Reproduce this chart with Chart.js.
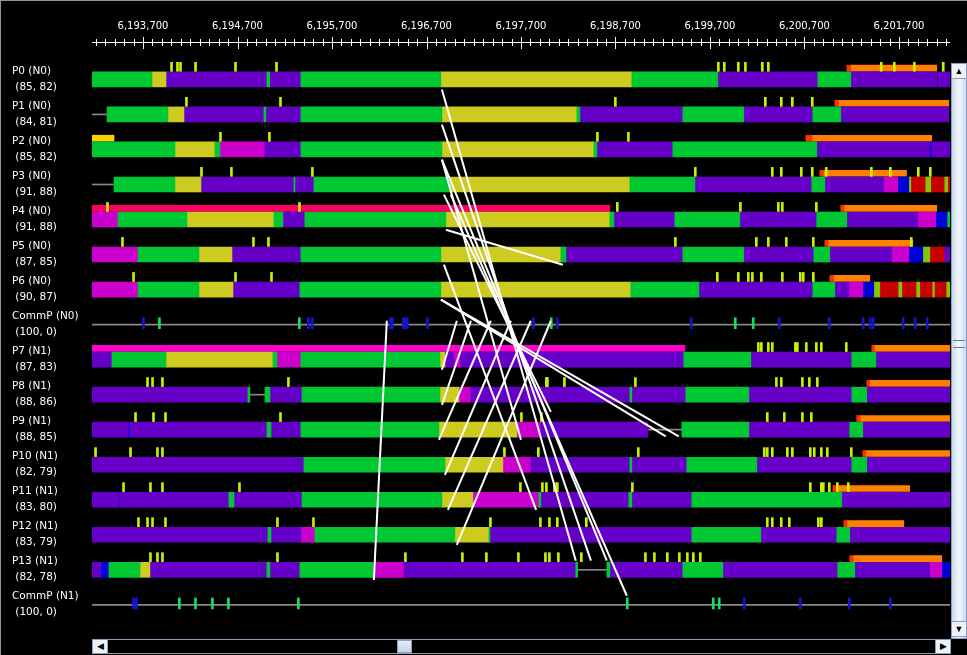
<!DOCTYPE html>
<html><head><meta charset="utf-8">
<script src="https://cdn.jsdelivr.net/npm/chart.js@4"></script>
<style>
html,body{margin:0;padding:0;background:#000;overflow:hidden}
#wrap{position:relative;width:967px;height:655px;box-sizing:border-box;border-left:1px solid #8a96a8;border-top:1px solid #8a96a8}
canvas{position:absolute;left:0;top:0}
.sb{position:absolute;box-sizing:border-box}
</style></head><body>
<div id="wrap">
<canvas id="c" width="967" height="655"></canvas>
<div class="sb" style="left:950px;top:62px;width:16px;height:576px;background:linear-gradient(90deg,#c9d9ee,#f4f8fd,#c9d9ee);border:1px solid #8aa0bc"></div>
<div class="sb" style="left:950px;top:62px;width:16px;height:16px;background:#eef2f7;border:1px solid #8aa0bc;font:9px sans-serif;text-align:center;line-height:14px">&#9650;</div>
<div class="sb" style="left:950px;top:620px;width:16px;height:16px;background:#eef2f7;border:1px solid #8aa0bc;font:9px sans-serif;text-align:center;line-height:14px">&#9660;</div>
<div class="sb" style="left:952px;top:339px;width:12px;height:8px;border-top:1px solid #6a7d9a;border-bottom:1px solid #6a7d9a"></div>
<div class="sb" style="left:91px;top:638px;width:858px;height:15px;background:#000;border:1px solid #8aa0bc"></div>
<div class="sb" style="left:91px;top:638px;width:16px;height:15px;background:#eef2f7;border:1px solid #8aa0bc;font:9px sans-serif;text-align:center;line-height:13px">&#9664;</div>
<div class="sb" style="left:934px;top:638px;width:16px;height:15px;background:#eef2f7;border:1px solid #8aa0bc;font:9px sans-serif;text-align:center;line-height:13px">&#9654;</div>
<div class="sb" style="left:396px;top:639px;width:15px;height:13px;background:linear-gradient(#e8eef7,#c5d3e6);border:1px solid #8aa0bc"></div>
</div>
<script>
const rowLabels=['P0 (N0)','P1 (N0)','P2 (N0)','P3 (N0)','P4 (N0)','P5 (N0)','P6 (N0)','CommP (N0)','P7 (N1)','P8 (N1)','P9 (N1)','P10 (N1)','P11 (N1)','P12 (N1)','P13 (N1)','CommP (N1)'];
const rowCounts=['(85, 82)','(84, 81)','(85, 82)','(91, 88)','(91, 88)','(87, 85)','(90, 87)','(100, 0)','(87, 83)','(88, 86)','(88, 85)','(82, 79)','(83, 80)','(83, 79)','(82, 78)','(100, 0)'];
const timeMin=6193160, timeMax=6202240, tickStart=6193700, majorStep=1000, minorStep=100;
const stateColors={G:'#00c832',Y:'#cdca20',P:'#6600c8',M:'#cc00cc',B:'#0000d8',R:'#c80000',O:'#ff8000',X:'#ff3000',K:'#ff0060',H:'#ff00cc',D:'#ffd000',L:'#888888',V:'#80c800'};

const p0=[[6193160,6193795,'G'],[6193795,6193943,'Y'],[6193943,6195011,'P'],[6195011,6195040,'G'],[6195040,6195371,'P'],[6195371,6196852,'G'],[6196852,6198873,'Y'],[6198873,6199783,'G'],[6199783,6200841,'P'],[6200841,6201190,'G'],[6201190,6202100,'P'],[6202110,6202237,'P']];
const p1=[[6193160,6193319,'L'],[6193319,6193964,'G'],[6193964,6194133,'Y'],[6194133,6194980,'P'],[6194980,6195000,'G'],[6195000,6195371,'P'],[6195371,6196863,'G'],[6196863,6198291,'Y'],[6198291,6198323,'G'],[6198323,6199413,'P'],[6199413,6200058,'G'],[6200058,6200788,'P'],[6200788,6201084,'G'],[6201084,6202227,'P']];
const p2=[[6193160,6194038,'G'],[6194038,6194461,'Y'],[6194461,6194514,'G'],[6194514,6194990,'M'],[6194990,6195371,'P'],[6195371,6196863,'G'],[6196863,6198471,'Y'],[6198471,6198503,'G'],[6198503,6199307,'P'],[6199307,6200830,'G'],[6200830,6202026,'P'],[6202026,6202047,'B'],[6202047,6202237,'P']];
const p3=[[6193160,6193393,'L'],[6193393,6194038,'G'],[6194038,6194313,'Y'],[6194313,6195297,'P'],[6195297,6195308,'G'],[6195308,6195509,'P'],[6195509,6196947,'G'],[6196947,6198852,'Y'],[6198852,6199540,'G'],[6199540,6200777,'P'],[6200777,6200915,'G'],[6200915,6201539,'P'],[6201539,6201687,'M'],[6201687,6201804,'B'],[6201804,6201825,'V'],[6201825,6201984,'R'],[6201984,6202036,'V'],[6202036,6202185,'R'],[6202185,6202216,'V'],[6202216,6202237,'R']];
const p4=[[6193160,6193435,'M'],[6193435,6194165,'G'],[6194165,6195085,'Y'],[6195085,6195181,'G'],[6195181,6195413,'P'],[6195413,6196905,'G'],[6196905,6198640,'Y'],[6198640,6198683,'G'],[6198683,6199328,'P'],[6199328,6200016,'G'],[6200016,6200830,'P'],[6200830,6201148,'G'],[6201148,6201899,'P'],[6201899,6202089,'M'],[6202089,6202216,'B'],[6202216,6202237,'G']];
const p5=[[6193160,6193647,'M'],[6193647,6194292,'G'],[6194292,6194641,'Y'],[6194641,6195371,'P'],[6195371,6196852,'G'],[6196852,6198122,'Y'],[6198122,6198175,'G'],[6198175,6199413,'P'],[6199413,6200058,'G'],[6200058,6200799,'P'],[6200799,6200968,'G'],[6200968,6201624,'P'],[6201624,6201804,'M'],[6201804,6201952,'B'],[6201952,6202026,'V'],[6202026,6202185,'R'],[6202185,6202237,'P']];
const p6=[[6193160,6193647,'M'],[6193647,6194292,'G'],[6194292,6194652,'Y'],[6194652,6195360,'P'],[6195360,6196852,'G'],[6196852,6198862,'Y'],[6198862,6199582,'G'],[6199582,6200788,'P'],[6200788,6201021,'G'],[6201021,6201169,'P'],[6201169,6201317,'M'],[6201317,6201433,'B'],[6201433,6201497,'V'],[6201497,6201698,'R'],[6201698,6201730,'V'],[6201730,6201888,'R'],[6201888,6201920,'V'],[6201920,6202058,'R'],[6202058,6202075,'V'],[6202075,6202206,'R'],[6202206,6202237,'V']];
const commN0=[[6193160,6202237,'L']];
const p7=[[6193160,6193371,'P'],[6193371,6193943,'G'],[6193943,6195075,'Y'],[6195075,6195117,'G'],[6195117,6195371,'M'],[6195371,6196842,'G'],[6196842,6196895,'Y'],[6196895,6196990,'P'],[6196990,6197060,'M'],[6197060,6199423,'P'],[6199423,6200132,'G'],[6200132,6201201,'P'],[6201201,6201455,'G'],[6201455,6202237,'P']];
const p8=[[6193160,6194810,'P'],[6194810,6194831,'G'],[6194831,6194990,'L'],[6194990,6195043,'G'],[6195043,6195382,'P'],[6195382,6196842,'G'],[6196842,6197043,'Y'],[6197043,6197170,'M'],[6197170,6198852,'P'],[6198852,6198873,'G'],[6198873,6199444,'P'],[6199444,6200111,'G'],[6200111,6201201,'P'],[6201201,6201359,'G'],[6201359,6202237,'P']];
const p9=[[6193160,6193541,'P'],[6193541,6193560,'B'],[6193560,6195011,'P'],[6195011,6195054,'G'],[6195054,6195371,'P'],[6195371,6196831,'G'],[6196831,6197656,'Y'],[6197656,6197910,'M'],[6197910,6199042,'P'],[6199042,6199402,'L'],[6199402,6200111,'G'],[6200111,6201179,'P'],[6201179,6201317,'G'],[6201317,6202237,'P']];
const p10=[[6193160,6195403,'P'],[6195403,6196895,'G'],[6196895,6197508,'Y'],[6197508,6197804,'M'],[6197804,6198852,'P'],[6198852,6198873,'G'],[6198873,6199455,'P'],[6199455,6200195,'G'],[6200195,6201201,'P'],[6201201,6201359,'G'],[6201359,6202237,'P']];
const p11=[[6193160,6193445,'P'],[6193445,6193456,'B'],[6193456,6194609,'P'],[6194609,6194662,'G'],[6194662,6195382,'P'],[6195382,6196863,'G'],[6196863,6197191,'Y'],[6197191,6197889,'M'],[6197889,6197910,'G'],[6197910,6198841,'P'],[6198841,6198873,'G'],[6198873,6199508,'P'],[6199508,6201095,'G'],[6201095,6202237,'P']];
const p12=[[6193160,6195022,'P'],[6195022,6195054,'G'],[6195054,6195371,'P'],[6195371,6195519,'M'],[6195519,6197000,'G'],[6197000,6197360,'Y'],[6197360,6197371,'G'],[6197371,6199508,'P'],[6199508,6200238,'G'],[6200238,6201042,'P'],[6201042,6201179,'G'],[6201179,6202237,'P']];
const p13=[[6193160,6193255,'P'],[6193255,6193340,'B'],[6193340,6193668,'G'],[6193668,6193773,'Y'],[6193773,6195011,'P'],[6195011,6195043,'G'],[6195043,6195360,'P'],[6195360,6196133,'G'],[6196133,6196461,'M'],[6196461,6198280,'P'],[6198280,6198300,'G'],[6198300,6198608,'L'],[6198608,6198640,'G'],[6198640,6199413,'P'],[6199413,6199836,'G'],[6199836,6201052,'P'],[6201052,6201232,'G'],[6201232,6202026,'P'],[6202026,6202153,'M'],[6202153,6202237,'B']];
const commN1=[[6193160,6202237,'L']];
const mainRows=[p0,p1,p2,p3,p4,p5,p6,commN0,p7,p8,p9,p10,p11,p12,p13,commN1];

const topRows=[
 [[6201148,6201190,'X'],[6201190,6202100,'O']],
 [[6201021,6201060,'X'],[6201060,6202227,'O']],
 [[6193160,6193393,'D'],[6200714,6200780,'X'],[6200780,6202047,'O']],
 [[6200862,6200900,'X'],[6200900,6201780,'O']],
 [[6193160,6198640,'K'],[6201084,6201120,'X'],[6201120,6202100,'O']],
 [[6200915,6200950,'X'],[6200950,6201846,'O']],
 [[6200968,6201010,'X'],[6201010,6201391,'O']],
 [],
 [[6193160,6199434,'H'],[6201412,6201440,'X'],[6201440,6202237,'O']],
 [[6201359,6201390,'X'],[6201390,6202237,'O']],
 [[6201253,6201290,'X'],[6201290,6202237,'O']],
 [[6201317,6201350,'X'],[6201350,6202237,'O']],
 [[6201000,6201040,'X'],[6201040,6201814,'O']],
 [[6201116,6201150,'X'],[6201150,6201751,'O']],
 [[6201179,6201215,'X'],[6201215,6202153,'O']],
 []
];
// user events (yellow flags above the bars), per row
const eventRows=[
 [6193996,6194059,6194091,6194250,6194673,6195107,6199783,6199846,6199994,6200069,6200248,6200312,6201507,6201645,6201857,6202163],
 [6194154,6195149,6198693,6200280,6200449,6200566,6200777],
 [6194514,6195032,6198503,6198831],
 [6194313,6194630,6195487,6199539,6200354,6200449,6200661,6200777,6200925,6201402,6201603,6201899,6202026],
 [6193318,6195350,6198714,6200016,6200418,6200460,6200820],
 [6193477,6194863,6195022,6199328,6200185,6200312,6200502,6200788,6201825],
 [6193594,6194673,6195054,6199772,6199994,6200100,6200143,6200238,6200460,6200650,6200682,6200788],
 [],
 [6200206,6200238,6200312,6200354,6200598,6200619,6200714,6200820,6200873,6201137],
 [6193742,6193795,6193900,6195233,6197963,6197974,6198154,6198905,6200397,6200449,6200672,6200746,6200830],
 [6193615,6193805,6193932,6195149,6197699,6197910,6200301,6200481,6200672,6200767],
 [6193192,6193562,6193847,6193900,6197519,6197878,6198936,6200269,6200301,6200354,6200513,6200566,6200756,6200798,6200873,6200936,6201190],
 [6193488,6193773,6193900,6194715,6197688,6197921,6197963,6198048,6198079,6198873,6200756,6200873,6200894,6200957,6201042,6201158],
 [6193646,6193742,6193795,6193932,6195117,6195498,6197371,6197900,6197995,6198079,6198386,6200301,6200354,6200449,6200534,6200841,6200873],
 [6193773,6193847,6193900,6195117,6196471,6197074,6197328,6197667,6197953,6197995,6198090,6198333,6199011,6199106,6199243,6199370,6199455,6199518,6199592],
 []
];
const commEventsN0=[[6193700,'B'],[6193869,'G'],[6195350,'G'],[6195445,'B'],[6195487,'B'],[6196313,'B'],[6196334,'B'],[6196451,'B'],[6196472,'B'],[6196493,'B'],[6196705,'B'],[6197826,'B'],[6198016,'G'],[6198080,'B'],[6199497,'B'],[6199963,'G'],[6200153,'G'],[6200428,'B'],[6200957,'B'],[6201317,'B'],[6201391,'B'],[6201423,'B'],[6201740,'B'],[6201867,'B'],[6201994,'B']];
const commEventsN1=[[6193594,'B'],[6193625,'B'],[6194080,'G'],[6194250,'G'],[6194430,'G'],[6194599,'G'],[6195339,'G'],[6198820,'G'],[6199730,'G'],[6199793,'G'],[6200058,'B'],[6200650,'B'],[6201169,'B'],[6201603,'B']];
const messages=[
 [6196863,0.3,6198280,13.75],[6196863,1.3,6198440,13.75],[6196863,2.3,6198608,13.75],[6196957,3.3,6198820,14.75],
 [6196905,4.3,6198143,5.3],[6196852,6.3,6199370,10.2],[6196852,6.3,6199232,10.2],
 [6196143,14.3,6196280,6.9],[6196863,8.3,6197021,6.9],[6196863,9.3,6197170,6.9],[6196831,10.3,6197381,6.9],
 [6196895,11.3,6197593,6.9],[6196926,12.3,6197804,6.9],[6197021,13.3,6198016,6.9],
 [6196863,2.3,6197700,10.3],[6196884,3.3,6198016,9.5],[6196884,5.3,6197860,12.3]
];

const datasets=[];
function addBars(rows,thick,offset,order){
  const byState={};
  rows.forEach((segs,r)=>segs.forEach(([s,e,st])=>{
    (byState[st]=byState[st]||[]).push({x:[s,e],y:r+offset});
  }));
  for(const st in byState){
    const isLine=st==='L';
    datasets.push({type:'bar',indexAxis:'y',data:byState[st],backgroundColor:stateColors[st],
      barThickness:isLine?1:thick,grouped:false,borderWidth:0,borderSkipped:false,order:order});
  }
}
addBars(mainRows,15,0.01,5);
addBars(topRows,6,-0.31,5);
const evData=[];
eventRows.forEach((ev,r)=>ev.forEach(t=>evData.push({x:[t-5,t+5],y:r-0.35})));
datasets.push({type:'bar',indexAxis:'y',data:evData,backgroundColor:'#c8f000',barThickness:9,minBarLength:2,grouped:false,borderWidth:0,order:3});
function addComm(events,row){
  ['B','G'].forEach(st=>{
    const d=events.filter(e=>e[1]===st).map(e=>({x:[e[0]-6,e[0]+6],y:row-0.03}));
    datasets.push({type:'bar',indexAxis:'y',data:d,backgroundColor:st==='B'?'#1414d0':'#14e060',barThickness:11,minBarLength:2,grouped:false,borderWidth:0,order:4});
  });
}
addComm(commEventsN0,7);addComm(commEventsN1,15);
messages.forEach(m=>datasets.push({type:'line',data:[{x:m[0],y:m[1]},{x:m[2],y:m[3]}],borderColor:'#ffffff',borderWidth:2,pointRadius:0,order:1}));

const axisPlugin={id:'axisTicks',afterDraw(chart){
  const xs=chart.scales.x,ctx=chart.ctx,a=chart.chartArea;
  ctx.save();ctx.strokeStyle='#fff';ctx.lineWidth=1;
  ctx.beginPath();ctx.moveTo(a.left,41.5);ctx.lineTo(a.right,41.5);ctx.stroke();
  for(let t=tickStart-5*minorStep;t<=timeMax;t+=minorStep){
    const px=Math.round(xs.getPixelForValue(t))+0.5;
    if(px<a.left||px>a.right)continue;
    const major=((t-tickStart)%majorStep)===0;
    ctx.beginPath();ctx.moveTo(px,major?36:38);ctx.lineTo(px,major?48:45);ctx.stroke();
  }
  ctx.restore();
}};

new Chart(document.getElementById('c'),{
  type:'bar',
  data:{datasets},
  plugins:[axisPlugin],
  options:{
    responsive:false,animation:false,devicePixelRatio:1,
    layout:{padding:{left:11,right:18,top:0,bottom:34}},
    plugins:{legend:{display:false},tooltip:{enabled:false}},
    scales:{
      x:{type:'linear',position:'top',offset:false,min:timeMin,max:timeMax,
        afterFit(s){s.height=40;},
        afterBuildTicks(s){const t=[];for(let v=tickStart;v<=timeMax;v+=majorStep)t.push({value:v});s.ticks=t;},
        grid:{display:false,drawTicks:false},border:{display:false},
        ticks:{color:'#fff',padding:9,maxRotation:0,autoSkip:false,font:{family:'DejaVu Sans',size:10},
          callback:v=>v.toLocaleString('en-US')}},
      y:{type:'linear',reverse:true,offset:false,min:-1.086,max:15.5,
        afterFit(s){s.width=80;},
        afterBuildTicks(s){s.ticks=rowLabels.map((_,i)=>({value:i}));},
        grid:{display:false},border:{display:false},
        ticks:{color:'#fff',crossAlign:'far',padding:0,autoSkip:false,font:{family:'DejaVu Sans',size:10.5,lineHeight:1.55},
          callback:(v)=>{const i=Math.round(v);return [rowLabels[i],' '+rowCounts[i]];}}}
    }
  }
});
</script></body></html>
